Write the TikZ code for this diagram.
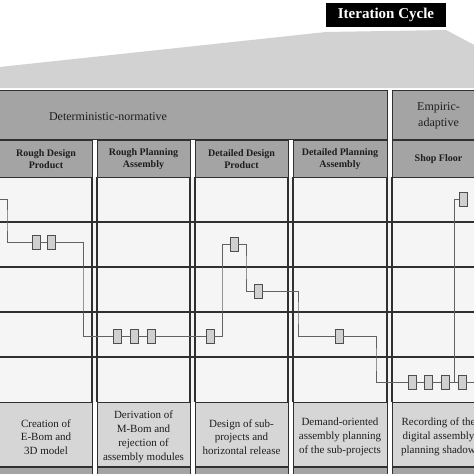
\documentclass[tikz,border=0pt]{standalone}
\usepackage{fontspec}
\setmainfont{Liberation Serif}
\definecolor{bordc}{HTML}{303030}
\definecolor{trapc}{HTML}{D2D2D2}
\definecolor{hdrc}{HTML}{A4A4A4}
\definecolor{gridbg}{HTML}{F5F5F5}
\definecolor{botc}{HTML}{D6D6D6}
\definecolor{flowc}{HTML}{626262}
\definecolor{boxc}{HTML}{D0D0D0}
\definecolor{txtc}{HTML}{1E1E1E}
\begin{document}
\begin{tikzpicture}[x=1pt,y=-1pt,
  cell/.style={draw=bordc, line width=1pt},
  gline/.style={draw=bordc, line width=1.2pt},
  flow/.style={draw=flowc, line width=0.9pt},
  procbox/.style={draw=flowc!80!black, line width=0.8pt, fill=boxc, minimum width=8pt, minimum height=14pt, inner sep=0pt, rectangle},
  subtxt/.style={font=\fontsize{10}{12}\selectfont\bfseries, text=txtc, align=center, inner sep=0pt},
  hdrtxt/.style={font=\fontsize{12}{16}\selectfont, text=txtc, align=center, inner sep=0pt},
  bottxt/.style={font=\fontsize{11}{13.8}\selectfont, text=txtc, align=center, inner sep=0pt}]
\useasboundingbox (0,0) rectangle (474,474);
\clip (0,0) rectangle (474,474);
\fill[white] (0,0) rectangle (474,474);
% trapezoid
\fill[trapc] (-5,67.5) -- (326,32) -- (446,30) -- (480,48) -- (480,88) -- (-5,88) -- cycle;
% iteration cycle
\node[fill=black, text=white, font=\fontsize{15}{18}\selectfont\bfseries, minimum width=120pt, minimum height=24pt, inner sep=0pt] (iter) at (386,15) {Iteration Cycle};
% header band
\filldraw[cell, fill=hdrc] (-5,90.5) rectangle (387,139);
\filldraw[cell, fill=hdrc] (392,90.5) rectangle (485,139);
\node[hdrtxt] (det) at (108,117) {Deterministic-normative};
\node[hdrtxt] (emp) at (438.5,116) {Empiric-\\adaptive};
% grid background
\fill[gridbg] (-5,177) rectangle (485,402);
\foreach \yy in {222,267,312,357}{\draw[gline] (-5,\yy) -- (485,\yy);}
% columns
\foreach \a/\b in {-5/92, 97/190, 195/288, 293/387, 392/485}{
  \filldraw[cell, fill=hdrc] (\a,140) rectangle (\b,177);
  \draw[gline] (\a,177) -- (\a,402);
  \draw[gline] (\b,177) -- (\b,402);
  \filldraw[cell, fill=botc] (\a,402) rectangle (\b,466);
  \filldraw[cell, fill=hdrc] (\a,467) rectangle (\b,490);
}
% sub headers
\node[subtxt] (s1) at (46,159) {Rough Design\\Product};
\node[subtxt] (s2) at (143.5,159) {Rough Planning\\Assembly};
\node[subtxt] (s3) at (241.5,159) {Detailed Design\\Product};
\node[subtxt] (s4) at (340,159) {Detailed Planning\\Assembly};
\node[subtxt] (s5) at (438.5,159) {Shop Floor};
% bottom texts
\node[bottxt] (t1) at (46,437) {Creation of\\E-Bom and\\3D model};
\node[bottxt] (t2) at (143.5,437) {Derivation of\\M-Bom and\\rejection of\\assembly modules};
\node[bottxt] (t3) at (241.5,437) {Design of sub-\\projects and\\horizontal release};
\node[bottxt] (t4) at (340,437) {Demand-oriented\\assembly planning\\of the sub-projects};
\node[bottxt] (t5) at (438.5,437) {Recording of the\\digital assembly\\planning shadow};
% process boxes
\node[procbox] (b1) at (36,242) {};
\node[procbox] (b2) at (51,242) {};
\node[procbox] (b3) at (117,336) {};
\node[procbox] (b4) at (134,336) {};
\node[procbox] (b5) at (151,336) {};
\node[procbox] (b6) at (210,336) {};
\node[procbox] (b7) at (234,244) {};
\node[procbox] (b8) at (258,291) {};
\node[procbox] (b9) at (339,336) {};
\node[procbox] (b10) at (412,382) {};
\node[procbox] (b11) at (428,382) {};
\node[procbox] (b12) at (445,382) {};
\node[procbox] (b13) at (462,382) {};
\node[procbox] (b14) at (463,199) {};
% bend coordinates
\coordinate (s) at (-2,199);
\coordinate (k1) at (7,220);
\coordinate (k2) at (83,290);
\coordinate (k3) at (222,290);
\coordinate (k4) at (246,267);
\coordinate (k5) at (298,312);
\coordinate (k6) at (376,360);
\coordinate (k7) at (454,382);
\coordinate (e) at (480,382);
% flow
\draw[flow] (s) -| (k1) |- (b1);
\draw[flow] (b1) -- (b2);
\draw[flow] (b2) -| (k2) |- (b3);
\draw[flow] (b3) -- (b4);
\draw[flow] (b4) -- (b5);
\draw[flow] (b5) -- (b6);
\draw[flow] (b6) -| (k3) |- (b7);
\draw[flow] (b7) -| (k4) |- (b8);
\draw[flow] (b8) -| (k5) |- (b9);
\draw[flow] (b9) -| (k6) |- (b10);
\draw[flow] (b10) -- (b11);
\draw[flow] (b11) -- (b12);
\draw[flow] (b12) -- (b13);
\draw[flow] (b13) -- (e);
\draw[flow] (k7) |- (b14);
\end{tikzpicture}
\end{document}
